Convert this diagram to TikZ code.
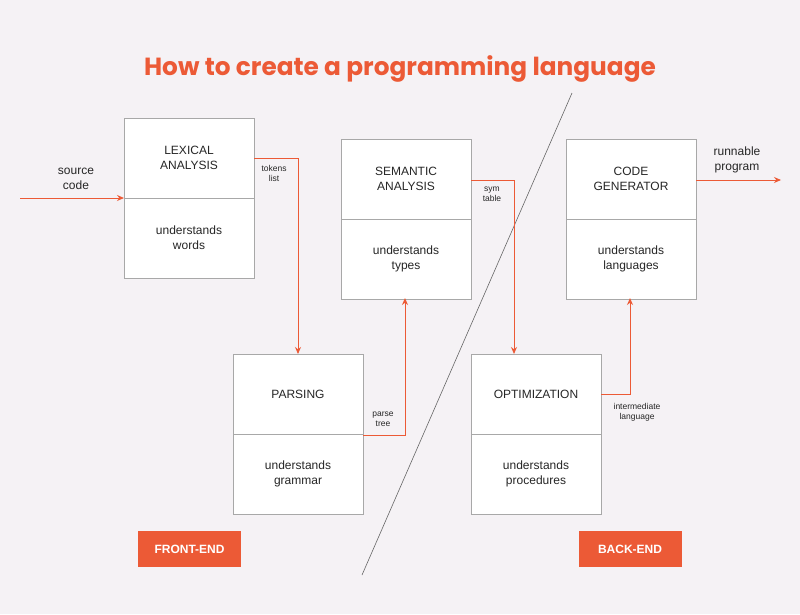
\documentclass[tikz,border=0pt]{standalone}
\usepackage{fontspec}
\setmainfont{Liberation Sans}
\newfontfamily\titlefont{Poppins}
\usetikzlibrary{arrows.meta}
\definecolor{acc}{HTML}{EC5A36}
\definecolor{bg}{HTML}{F5F2F5}
\definecolor{bd}{HTML}{A8A8A8}
\begin{document}
\begin{tikzpicture}[x=1pt,y=-1pt,
  box/.style={draw=bd,fill=white,line width=0.8pt},
  txt/.style={font=\fontsize{12}{15}\selectfont,align=center,text=black!85},
  lab/.style={font=\fontsize{8.5}{10}\selectfont,align=center,text=black!85},
  conn/.style={draw=acc,line width=1pt,-{Stealth[length=7pt,width=6pt]}},
  tag/.style={fill=acc,text=white,font=\bfseries\fontsize{12}{14}\selectfont,minimum width=103pt,minimum height=36pt,inner sep=0pt}]
\fill[bg] (0,0) rectangle (800,614);
\useasboundingbox (0,0) rectangle (800,614);
\node[font=\titlefont\bfseries\fontsize{24.8}{30}\selectfont,text=acc] (title) at (400,69) {How to create a programming language};
\draw[black!60,line width=0.6pt] (572,93) -- (362,575);
% boxes
\foreach \n/\x/\y/\a/\b in {lex/124/118/LEXICAL\\ANALYSIS/understands\\words,
  sem/341/139/SEMANTIC\\ANALYSIS/understands\\types,
  cg/566/139/CODE\\GENERATOR/understands\\languages,
  par/233/354/PARSING/understands\\grammar,
  opt/471/354/OPTIMIZATION/understands\\procedures}{
  \draw[box] (\x,\y) rectangle ++(130,160);
  \draw[bd,line width=0.8pt] (\x,\y+80) -- ++(130,0);
  \node[txt] (\n top) at (\x+65,\y+40) {\a};
  \node[txt] (\n bot) at (\x+65,\y+120) {\b};
}
\coordinate (lexL) at (124,198);
\coordinate (src) at (20,198);
\draw[conn] (src) -- (lexL);
\node[txt] (srcl) at (76,179) {source\\code};
\coordinate (lexR) at (254,158);
\coordinate (parT) at (298,354);
\draw[conn] (lexR) -| (parT);
\node[lab,anchor=north west] (tok) at (258,162) {tokens\\list};
\coordinate (parR) at (363,435);
\coordinate (semB) at (405,298);
\draw[conn] (parR) -| (semB);
\node[lab] (pt) at (383,419) {parse\\tree};
\coordinate (semR) at (471,180);
\coordinate (optT) at (514,354);
\draw[conn] (semR) -| (optT);
\node[lab] (st) at (492,194) {sym\\table};
\coordinate (optR) at (601,394);
\coordinate (cgB) at (630,298);
\draw[conn] (optR) -| (cgB);
\node[lab] (il) at (637,412) {intermediate\\language};
\coordinate (cgR) at (696,180);
\coordinate (run) at (781,180);
\draw[conn] (cgR) -- (run);
\node[txt] (runl) at (737,160) {runnable\\program};
\node[tag] (fe) at (189.5,549) {FRONT-END};
\node[tag] (be) at (630,549) {BACK-END};
\end{tikzpicture}
\end{document}
